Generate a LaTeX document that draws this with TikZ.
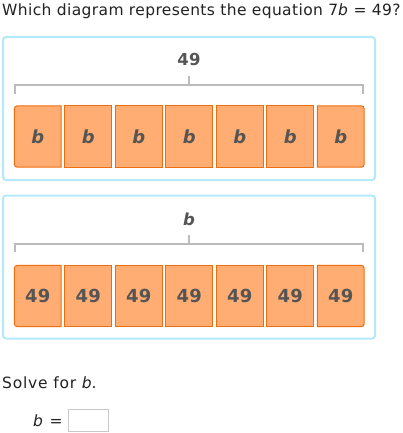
\documentclass[tikz,border=0pt]{standalone}
\usepackage{fontspec}
\setmainfont[LetterSpace=2.5]{DejaVu Sans}
\newfontfamily\widefont[LetterSpace=5]{DejaVu Sans}
\definecolor{panelc}{HTML}{B3E9FA}
\definecolor{boxfill}{HTML}{FFAD72}
\definecolor{boxline}{HTML}{EE6E0F}
\definecolor{labc}{HTML}{555555}
\definecolor{brc}{HTML}{BBBBBB}
\definecolor{txt}{HTML}{222222}
\tikzset{
  panel/.style={draw=panelc, line width=2pt, rounded corners=3pt, minimum width=372pt, minimum height=143pt, inner sep=0pt},
  bx/.style={minimum width=46.5pt, minimum height=61pt, inner sep=0pt},
  bxd/.style={fill=boxfill, draw=boxline, line width=1pt},
  brk/.style={draw=brc, line width=2pt},
  lab/.style={text=labc, font=\fontsize{16.5}{19}\selectfont\bfseries, inner sep=0pt},
  blab/.style={text=labc, font=\fontsize{18}{20}\selectfont\bfseries, inner sep=0pt},
  txtn/.style={text=txt, font=\fontsize{15.5}{17}\selectfont, inner sep=0pt},
  txtw/.style={text=txt, font=\widefont\fontsize{15.5}{17}\selectfont, inner sep=0pt},
}
\begin{document}
\begin{tikzpicture}[x=1pt,y=-1pt]
\useasboundingbox (0,0) rectangle (402,433);
\fill[white] (0,0) rectangle (402,433);
\node[txtn, anchor=base west] (title) at (2,15.5) {Which diagram represents the equation 7\textit{b} = 49?};
% panels
\node[panel] (p1) at (189,108.5) {};
\node[panel] (p2) at (189,267) {};
% panel 1
\node[lab] (l1) at (189,60) {49};
\coordinate (a1) at (15,94); \coordinate (a2) at (15,85);
\coordinate (a3) at (363,85); \coordinate (a4) at (363,94);
\coordinate (c1) at (189,85); \coordinate (c2) at (189,76);
\draw[brk] (a1) -- (a2) -- (a3) -- (a4);
\draw[brk] (c1) -- (c2);
\foreach \i in {0,...,6} {
  \node[bx] (u\i) at (37.75+50.5*\i,136.5) {};
}
\foreach \i in {1,...,5} { \draw[bxd] (u\i.north west) rectangle (u\i.south east); }
\draw[bxd] (u0.north east) -- ([xshift=3pt]u0.north west) arc[start angle=90,end angle=180,radius=3pt] -- ([yshift=3pt]u0.south west) arc[start angle=180,end angle=270,radius=3pt] -- (u0.south east) -- cycle;
\draw[bxd] (u6.north west) -- ([xshift=-3pt]u6.north east) arc[start angle=90,end angle=0,radius=3pt] -- ([yshift=3pt]u6.south east) arc[start angle=0,end angle=-90,radius=3pt] -- (u6.south west) -- cycle;
\foreach \i in {0,...,6} { \node[blab] at (u\i) {\itshape b}; }
% panel 2
\node[lab] (l2) at (189,219) {\itshape b};
\coordinate (d1) at (15,252); \coordinate (d2) at (15,243.5);
\coordinate (d3) at (363,243.5); \coordinate (d4) at (363,252);
\coordinate (e1) at (189,243.5); \coordinate (e2) at (189,235);
\draw[brk] (d1) -- (d2) -- (d3) -- (d4);
\draw[brk] (e1) -- (e2);
\foreach \i in {0,...,6} {
  \node[bx] (v\i) at (37.75+50.5*\i,296) {};
}
\foreach \i in {1,...,5} { \draw[bxd] (v\i.north west) rectangle (v\i.south east); }
\draw[bxd] (v0.north east) -- ([xshift=3pt]v0.north west) arc[start angle=90,end angle=180,radius=3pt] -- ([yshift=3pt]v0.south west) arc[start angle=180,end angle=270,radius=3pt] -- (v0.south east) -- cycle;
\draw[bxd] (v6.north west) -- ([xshift=-3pt]v6.north east) arc[start angle=90,end angle=0,radius=3pt] -- ([yshift=3pt]v6.south east) arc[start angle=0,end angle=-90,radius=3pt] -- (v6.south west) -- cycle;
\foreach \i in {0,...,6} { \node[blab] at (v\i) {49}; }
% solve
\node[txtw, anchor=base west] (solve) at (2,388.3) {Solve for \textit{b}.};
\node[txtw, anchor=base west] (beq) at (33,426) {\textit{b} =};
\node[draw=brc!80, line width=1pt, minimum width=40pt, minimum height=22pt, inner sep=0pt] (ans) at (88.5,420.3) {};
\end{tikzpicture}
\end{document}
